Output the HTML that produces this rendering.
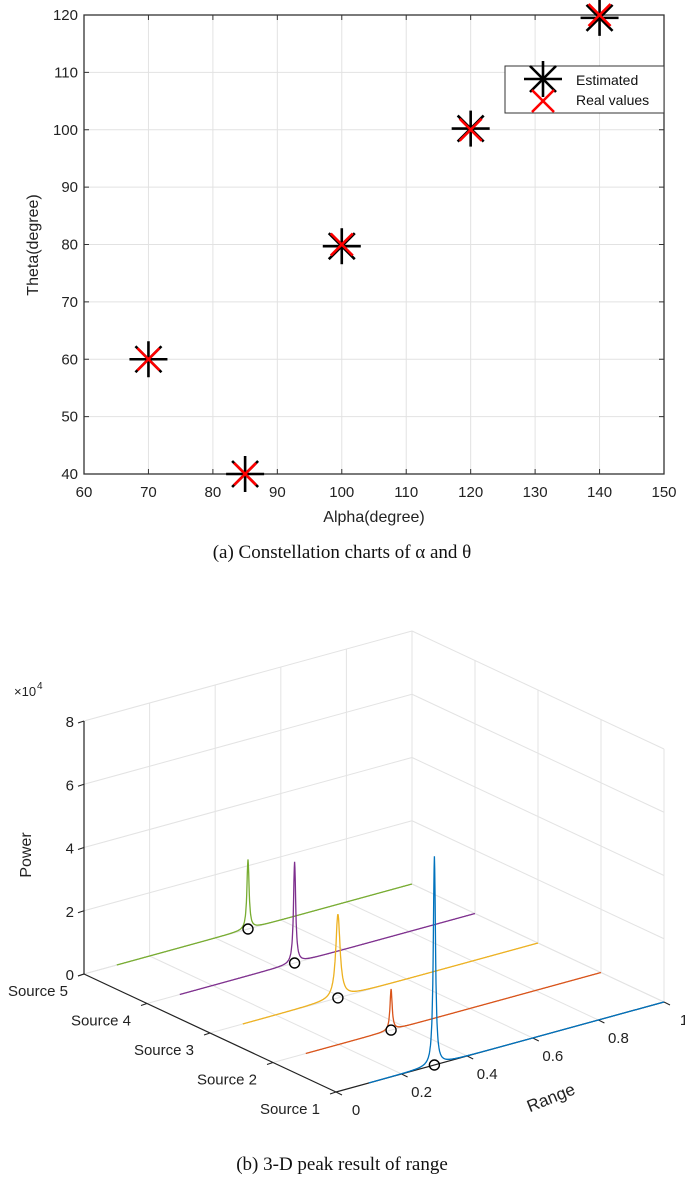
<!DOCTYPE html>
<html><head><meta charset="utf-8">
<style>
body{margin:0;background:#fff;width:685px;height:1188px;overflow:hidden}
svg{display:block;font-family:"Liberation Sans",sans-serif}
.cap{font-family:"Liberation Serif",serif;font-size:19px;fill:#111}
</style></head>
<body>
<svg id="chart" width="685" height="1188" viewBox="0 0 685 1188" xmlns="http://www.w3.org/2000/svg">
<g id="top"></g>
<g id="bot"></g>
</svg>
<script>
// ---- Chart (a) data ----
const xTicks=[60,70,80,90,100,110,120,130,140,150];
const yTicks=[40,50,60,70,80,90,100,110,120];
const estAlpha=[70,85,100,120,140];
const estTheta=[60,40,79.7,100.2,119.5];
const realAlpha=[70,85,100,120,140];
const realTheta=[60,40,80,100,120];
// ---- Chart (b) data ----
const sources=["Source 1","Source 2","Source 3","Source 4","Source 5"];
const peakRange=[0.30,0.36,0.39,0.45,0.50];
const peakPower=[66000,13000,26500,32000,22000];
const peakWidth=[0.004,0.004,0.008,0.004,0.004];
const rangeTicks=[0,0.2,0.4,0.6,0.8,1];
const rangeTickLabels=["0","0.2","0.4","0.6","0.8","1"];
const powerTicks=[0,20000,40000,60000,80000];
const powerTickLabels=["0","2","4","6","8"];
const colors=["#0072BD","#D95319","#EDB120","#7E2F8E","#77AC30"];

const NS="http://www.w3.org/2000/svg";
function el(parent,tag,attrs,text){const e=document.createElementNS(NS,tag);for(const k in attrs)e.setAttribute(k,attrs[k]);if(text!==undefined)e.textContent=text;parent.appendChild(e);return e;}

// ===== Chart (a) =====
const T=document.getElementById('top');
const L=84,R=664,TOP=15,B=474;
const xs=v=>L+(v-60)/90*(R-L);
const ys=v=>B-(v-40)/80*(B-TOP);
xTicks.forEach(t=>{
 let g=el(T,'line',{x1:xs(t),x2:xs(t),y1:TOP,y2:B,stroke:'#e2e2e2','stroke-width':1});
 
 el(T,'line',{x1:xs(t),x2:xs(t),y1:B,y2:B-5,stroke:'#333'});
 el(T,'line',{x1:xs(t),x2:xs(t),y1:TOP,y2:TOP+5,stroke:'#333'});
 let tx=el(T,'text',{x:xs(t),y:B+23,'text-anchor':'middle','font-size':15,fill:'#222'},String(t));
 
});
yTicks.forEach(t=>{
 let g=el(T,'line',{x1:L,x2:R,y1:ys(t),y2:ys(t),stroke:'#e2e2e2','stroke-width':1});
 
 el(T,'line',{x1:L,x2:L+5,y1:ys(t),y2:ys(t),stroke:'#333'});
 el(T,'line',{x1:R,x2:R-5,y1:ys(t),y2:ys(t),stroke:'#333'});
 let tx=el(T,'text',{x:L-6,y:ys(t)+5,'text-anchor':'end','font-size':15,fill:'#222'},String(t));
 
});
let fr=el(T,'rect',{x:L,y:TOP,width:R-L,height:B-TOP,fill:'none',stroke:'#333','stroke-width':1.3});

let xl=el(T,'text',{x:374,y:522,'text-anchor':'middle','font-size':16,fill:'#222'},'Alpha(degree)');

let yl=el(T,'text',{x:0,y:0,transform:'translate(38,245) rotate(-90)','text-anchor':'middle','font-size':16,fill:'#222'},'Theta(degree)');

function asterisk(p,cx,cy){const g=el(p,'g',{stroke:'#000','stroke-width':2.6});
 el(g,'line',{x1:cx-19,x2:cx+19,y1:cy,y2:cy});el(g,'line',{x1:cx,x2:cx,y1:cy-18,y2:cy+18});
 el(g,'line',{x1:cx-13,x2:cx+13,y1:cy-13,y2:cy+13});el(g,'line',{x1:cx-13,x2:cx+13,y1:cy+13,y2:cy-13});return g;}
function cross(p,cx,cy){const g=el(p,'g',{stroke:'#ff0000','stroke-width':2.6});
 el(g,'line',{x1:cx-11,x2:cx+11,y1:cy-11,y2:cy+11});el(g,'line',{x1:cx-11,x2:cx+11,y1:cy+11,y2:cy-11});return g;}
estAlpha.forEach((a,i)=>{const g=asterisk(T,xs(a),ys(estTheta[i]));
 });
realAlpha.forEach((a,i)=>{const g=cross(T,xs(a),ys(realTheta[i]));
 });
const lg=el(T,'g',{});

el(lg,'rect',{x:505,y:66,width:159,height:47,fill:'#fff',stroke:'#333','stroke-width':1});
asterisk(lg,543,79);cross(lg,543,101);
let l1=el(lg,'text',{x:576,y:85,'font-size':14,fill:'#111'},'Estimated');

let l2=el(lg,'text',{x:576,y:105,'font-size':14,fill:'#111'},'Real values');

let c1=el(T,'text',{x:342,y:558,'text-anchor':'middle',class:'cap'},'(a) Constellation charts of α and θ');


// ===== Chart (b) =====
const Bg=document.getElementById('bot');
const O=[336,1092], RV=[328,-90], SV=[-63,-29.5], PH=253/80000;
function P(r,s,p){return [O[0]+r*RV[0]+s*SV[0], O[1]+r*RV[1]+s*SV[1]-p*PH];}
function ln(p,a,b,st,w,name){const e=el(p,'line',{x1:a[0],y1:a[1],x2:b[0],y2:b[1],stroke:st,'stroke-width':w});
 return e;}
const g3=el(Bg,'g',{});
const GC='#e3e3e3',maxP=80000,ns=4;
rangeTicks.forEach(r=>ln(g3,P(r,ns,0),P(r,ns,maxP),GC,1,'back-wall-gridline'));
powerTicks.forEach(p=>ln(g3,P(0,ns,p),P(1,ns,p),GC,1,'back-wall-gridline'));
sources.forEach((s,i)=>ln(g3,P(1,i,0),P(1,i,maxP),GC,1,'right-wall-gridline'));
powerTicks.forEach(p=>ln(g3,P(1,0,p),P(1,ns,p),GC,1,'right-wall-gridline'));
rangeTicks.forEach(r=>ln(g3,P(r,0,0),P(r,ns,0),GC,1,'floor-gridline'));
sources.forEach((s,i)=>ln(g3,P(0,i,0),P(1,i,0),GC,1,'floor-gridline'));
ln(Bg,P(0,ns,0),P(0,ns,maxP),'#222',1.2,'power-axis');
ln(Bg,P(0,0,0),P(0,ns,0),'#222',1.2,'source-axis');
ln(Bg,P(0,0,0),P(1,0,0),'#222',1.2,'range-axis');
powerTicks.forEach((p,i)=>{const a=P(0,ns,p);el(Bg,'line',{x1:a[0]-6,y1:a[1]+2,x2:a[0],y2:a[1],stroke:'#222'});
 const t=el(Bg,'text',{x:a[0]-10,y:a[1]+6,'text-anchor':'end','font-size':15,fill:'#222'},powerTickLabels[i]);
 });
sources.forEach((s,i)=>{const a=P(0,i,0);el(Bg,'line',{x1:a[0],y1:a[1],x2:a[0]-6,y2:a[1]+2,stroke:'#222'});
 const t=el(Bg,'text',{x:a[0]-16,y:a[1]+22,'text-anchor':'end','font-size':15,fill:'#222'},s);
 });
rangeTicks.forEach((r,i)=>{const a=P(r,0,0);el(Bg,'line',{x1:a[0],y1:a[1],x2:a[0]+6,y2:a[1]+3,stroke:'#222'});
 const t=el(Bg,'text',{x:a[0]+20,y:a[1]+23,'text-anchor':'middle','font-size':15,fill:'#222'},rangeTickLabels[i]);
 });
let ex=el(Bg,'text',{x:14,y:696,'font-size':13,fill:'#222'},'×10');

el(Bg,'text',{x:37,y:689,'font-size':10,fill:'#222'},'4');
let pw=el(Bg,'text',{x:0,y:0,transform:'translate(31,855) rotate(-90)','text-anchor':'middle','font-size':16,fill:'#222'},'Power');

let rg=el(Bg,'text',{x:0,y:0,transform:'translate(553,1103) rotate(-22)','text-anchor':'middle','font-size':17,fill:'#222'},'Range');

for(let i=sources.length-1;i>=0;i--){
 let pts=[];
 for(let k=0;k<=900;k++){const r=0.1+k*0.001;
  const w=peakWidth[i];const v=peakPower[i]*w*w/((r-peakRange[i])**2+w*w);
  const q=P(r,i,v);pts.push(q[0].toFixed(1)+','+q[1].toFixed(1));}
 const pl=el(Bg,'polyline',{points:pts.join(' '),fill:'none',stroke:colors[i],'stroke-width':1.3});
 
 const c=P(peakRange[i],i,0);
 const cc=el(Bg,'circle',{cx:c[0],cy:c[1],r:5,fill:'#fff','fill-opacity':0,stroke:'#000','stroke-width':1.4});
 
}
let c2=el(Bg,'text',{x:342,y:1170,'text-anchor':'middle',class:'cap'},'(b) 3-D peak result of range');

</script>
</body></html>
